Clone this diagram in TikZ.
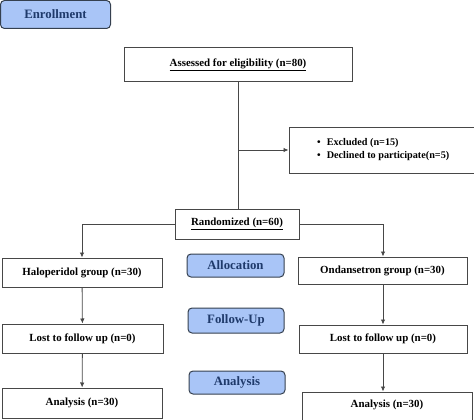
\documentclass[tikz,border=0pt]{standalone}
\usepackage{fontspec}
\setmainfont{Liberation Serif}
\newfontfamily\chartfont{Liberation Serif}[BoldFont={Liberation Serif Bold}]
\usetikzlibrary{arrows.meta}
\definecolor{stage}{HTML}{A9C5F7}
\definecolor{stagetext}{HTML}{1F3A6B}
\definecolor{stageline}{HTML}{35404F}
\definecolor{frame}{HTML}{474747}

\begin{document}
\begin{tikzpicture}[x=1pt, y=-1pt,
    box/.style={shape=rectangle, draw=frame, line width=1pt, inner sep=0pt, font=\chartfont\fontsize{10.9}{12}\selectfont\bfseries},
    stagebox/.style={shape=rectangle, rounded corners=4pt, draw=stageline, line width=1pt, fill=stage, text=stagetext, inner sep=0pt, font=\chartfont\fontsize{12.8}{14}\selectfont\bfseries},
    flow/.style={-{Latex[length=5pt,width=4.5pt]}, line width=0.8pt, color=frame}]
    \clip (0,0) rectangle (474,420);

    % stages
    \node at (55.5, 14.5) (enroll) [stagebox, minimum width=110pt, minimum height=28pt] {Enrollment};
    \node at (235.5,265.5) (alloc) [stagebox, minimum width=97pt, minimum height=23pt] {Allocation};
    \node at (236, 320.5) (follow) [stagebox, minimum width=96pt, minimum height=25pt] {Follow-Up};
    \node at (237, 382.5) (analysis) [stagebox, minimum width=96pt, minimum height=23pt] {Analysis};

    % enrollment
    \node at (238, 65) (assess) [box, minimum width=228pt, minimum height=34pt] {\underline{Assessed for eligibility (n=80)}};
    \node at (384, 150) (excl) [box, minimum width=190pt, minimum height=46pt] {};
    \node at (317, 149.5) (excltext) [anchor=west, align=left, inner sep=0pt, font=\chartfont\fontsize{10.2}{13}\selectfont\bfseries]
        {\textbullet\hspace{6pt}Excluded (n=15)\\ \textbullet\hspace{6pt}Declined to participate(n=5)};
    \node at (237, 224) (rand) [box, minimum width=124pt, minimum height=30pt] {\underline{Randomized (n=60)}};

    % groups
    \node at (82, 272.5) (halo) [box, minimum width=160pt, minimum height=29pt] {Haloperidol group (n=30)};
    \node at (82.5, 338.5) (lostL) [box, minimum width=161pt, minimum height=29pt] {Lost to follow up (n=0)};
    \node at (82, 403) (analL) [box, minimum width=160pt, minimum height=30pt] {Analysis (n=30)};

    \node at (382.5, 270.5) (ond) [box, minimum width=169pt, minimum height=27pt] {Ondansetron group (n=30)};
    \node at (383, 339) (lostR) [box, minimum width=168pt, minimum height=28pt] {Lost to follow up (n=0)};
    \node at (387, 408.5) (analR) [box, minimum width=170pt, minimum height=33pt] {};
    \node at (387, 405) (analRtext) [font=\chartfont\fontsize{10.9}{12}\selectfont\bfseries, inner sep=0pt] {Analysis (n=30)};

    \draw[line width=0.8pt, color=frame] (assess.south) -- (assess.south |- rand.north);
    \draw[flow] (assess.south |- excl.west) -- (excl.west);
    \draw[flow] (rand.west) -| (halo.north);
    \draw[flow] (rand.east) -| (lostR.north |- ond.north);
    \draw[flow] (halo) -- (lostL);
    \draw[flow] (lostL) -- (analL);
    \draw[flow] (ond.south -| lostR.north) -- (lostR.north);
    \draw[flow] (lostR.south) -- (lostR.south |- analR.north);
\end{tikzpicture}
\end{document}
